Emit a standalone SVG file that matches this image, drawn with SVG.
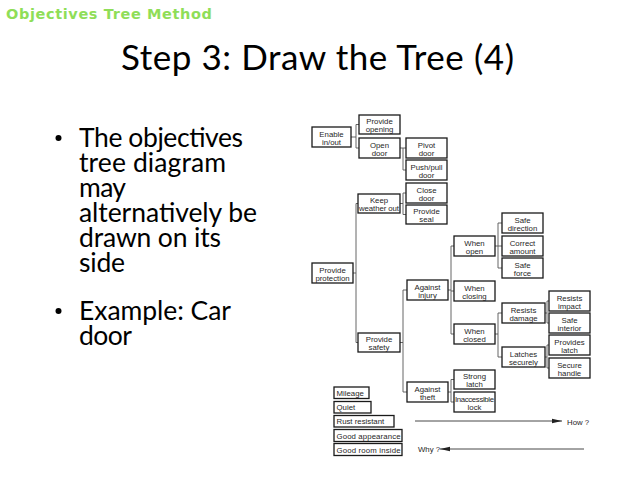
<svg xmlns="http://www.w3.org/2000/svg" width="638" height="479" viewBox="0 0 638 479">
<defs>
<style>
.bx{fill:#fff;stroke:#1a1a1a;stroke-width:1.3}
.bt{font-family:"Liberation Sans",Arial,sans-serif;font-size:7.8px;fill:#262626;text-anchor:middle}
.lt{font-family:"Liberation Sans",Arial,sans-serif;font-size:7.8px;fill:#262626}
.cn{fill:none;stroke:#555;stroke-width:0.9}
.body{font-family:Lato,"Liberation Sans",sans-serif;font-size:26.5px;fill:#000}
</style>
<marker id="ah" viewBox="0 0 10 6" refX="10" refY="3" markerWidth="10" markerHeight="6" markerUnits="userSpaceOnUse" orient="auto">
<path d="M0,0.8 L10,3 L0,5.2 Z" fill="#222"/>
</marker>
</defs>
<rect width="638" height="479" fill="#fff"/>
<text x="6" y="18.5" font-family="'DejaVu Sans','Liberation Sans',sans-serif" font-weight="bold" font-size="14.5" fill="#8fde58" textLength="206">Objectives Tree Method</text>
<text x="121" y="70" font-family="Lato,'Liberation Sans',sans-serif" font-size="35" fill="#000" textLength="393">Step 3: Draw the Tree (4)</text>
<g id="bullets">
<circle cx="58.5" cy="138" r="3" fill="#000"/>
<text class="body" x="79" y="147" textLength="164">The objectives</text>
<text class="body" x="79" y="172" textLength="147">tree diagram</text>
<text class="body" x="79" y="197" textLength="47">may</text>
<text class="body" x="79" y="222" textLength="178">alternatively be</text>
<text class="body" x="79" y="247" textLength="142">drawn on its</text>
<text class="body" x="79" y="272" textLength="46">side</text>
<circle cx="58.5" cy="311" r="3" fill="#000"/>
<text class="body" x="79" y="320" textLength="152">Example: Car</text>
<text class="body" x="79" y="345" textLength="53">door</text>
</g>
<g id="connectors">
<path class="cn" d="M351 137H356M356 124.5V148M356 124.5H359M356 148H359"/>
<path class="cn" d="M353 273H356M356 203.5V342.5M356 203.5H358M356 342.5H358"/>
<path class="cn" d="M400 148H403M403 148V170M403 148H406M403 170H406"/>
<path class="cn" d="M400 203.5H403M403 193V214.5M403 193H406M403 214.5H406"/>
<path class="cn" d="M400 342.5H403M403 290V392M403 290H407M403 392H407"/>
<path class="cn" d="M448 290H451M451 246V334M451 246H454M451 291H454M451 334H454"/>
<path class="cn" d="M448 392H451M451 379.5V402M451 379.5H454M451 402H454"/>
<path class="cn" d="M495 246H498M498 223V268M498 223H502M498 246H502M498 268H502"/>
<path class="cn" d="M495 334H498M498 313V357M498 313H502M498 357H502"/>
<path class="cn" d="M545 313H547M547 301V323M547 301H549M547 323H549"/>
<path class="cn" d="M545 357H547M547 345V368M547 345H549M547 368H549"/>
<path d="M415 421H562" stroke="#333" stroke-width="0.9" marker-end="url(#ah)"/>
<path d="M584 449H440" stroke="#333" stroke-width="0.9" marker-end="url(#ah)"/>
</g>
<text class="lt" x="567" y="424.5">How ?</text>
<text class="lt" x="418" y="452">Why ?</text>
<g id="enable-in-out"><rect class="bx" x="312" y="127" width="39" height="20"/><text class="bt" x="331.5" y="136.5">Enable</text><text class="bt" x="331.5" y="144.5">in/out</text></g>
<g id="provide-opening"><rect class="bx" x="359" y="115" width="41" height="19"/><text class="bt" x="379.5" y="124">Provide</text><text class="bt" x="379.5" y="132">opening</text></g>
<g id="open-door"><rect class="bx" x="359" y="138" width="41" height="20"/><text class="bt" x="379.5" y="147.5">Open</text><text class="bt" x="379.5" y="155.5">door</text></g>
<g id="pivot-door"><rect class="bx" x="406" y="138" width="41" height="20"/><text class="bt" x="426.5" y="147.5">Pivot</text><text class="bt" x="426.5" y="155.5">door</text></g>
<g id="push-pull-door"><rect class="bx" x="406" y="160" width="41" height="20"/><text class="bt" x="426.5" y="169.5">Push/pull</text><text class="bt" x="426.5" y="177.5">door</text></g>
<g id="close-door"><rect class="bx" x="406" y="183" width="41" height="20"/><text class="bt" x="426.5" y="192.5">Close</text><text class="bt" x="426.5" y="200.5">door</text></g>
<g id="provide-seal"><rect class="bx" x="406" y="205" width="41" height="19"/><text class="bt" x="426.5" y="214">Provide</text><text class="bt" x="426.5" y="222">seal</text></g>
<g id="keep-weather-out"><rect class="bx" x="358" y="194" width="42" height="19"/><text class="bt" x="379" y="203">Keep</text><text class="bt" x="379" y="211" textLength="40">weather out</text></g>
<g id="provide-protection"><rect class="bx" x="312" y="263" width="41" height="20"/><text class="bt" x="332.5" y="272.5">Provide</text><text class="bt" x="332.5" y="280.5">protection</text></g>
<g id="provide-safety"><rect class="bx" x="358" y="333" width="42" height="19"/><text class="bt" x="379" y="342">Provide</text><text class="bt" x="379" y="350">safety</text></g>
<g id="against-injury"><rect class="bx" x="407" y="280" width="41" height="20"/><text class="bt" x="427.5" y="289.5">Against</text><text class="bt" x="427.5" y="297.5">injury</text></g>
<g id="against-theft"><rect class="bx" x="407" y="382" width="41" height="20"/><text class="bt" x="427.5" y="391.5">Against</text><text class="bt" x="427.5" y="399.5">theft</text></g>
<g id="when-open"><rect class="bx" x="454" y="236" width="41" height="20"/><text class="bt" x="474.5" y="245.5">When</text><text class="bt" x="474.5" y="253.5">open</text></g>
<g id="when-closing"><rect class="bx" x="454" y="281" width="41" height="20"/><text class="bt" x="474.5" y="290.5">When</text><text class="bt" x="474.5" y="298.5">closing</text></g>
<g id="when-closed"><rect class="bx" x="454" y="324" width="41" height="20"/><text class="bt" x="474.5" y="333.5">When</text><text class="bt" x="474.5" y="341.5">closed</text></g>
<g id="safe-direction"><rect class="bx" x="502" y="213" width="41" height="20"/><text class="bt" x="522.5" y="222.5">Safe</text><text class="bt" x="522.5" y="230.5">direction</text></g>
<g id="correct-amount"><rect class="bx" x="502" y="236" width="41" height="20"/><text class="bt" x="522.5" y="245.5">Correct</text><text class="bt" x="522.5" y="253.5">amount</text></g>
<g id="safe-force"><rect class="bx" x="502" y="258" width="41" height="20"/><text class="bt" x="522.5" y="267.5">Safe</text><text class="bt" x="522.5" y="275.5">force</text></g>
<g id="resists-damage"><rect class="bx" x="502" y="303" width="43" height="20"/><text class="bt" x="523.5" y="312.5">Resists</text><text class="bt" x="523.5" y="320.5">damage</text></g>
<g id="latches-securely"><rect class="bx" x="502" y="347" width="43" height="20"/><text class="bt" x="523.5" y="356.5">Latches</text><text class="bt" x="523.5" y="364.5">securely</text></g>
<g id="resists-impact"><rect class="bx" x="549" y="291" width="41" height="20"/><text class="bt" x="569.5" y="300.5">Resists</text><text class="bt" x="569.5" y="308.5">impact</text></g>
<g id="safe-interior"><rect class="bx" x="549" y="313" width="41" height="20"/><text class="bt" x="569.5" y="322.5">Safe</text><text class="bt" x="569.5" y="330.5">interior</text></g>
<g id="provides-latch"><rect class="bx" x="549" y="335" width="41" height="20"/><text class="bt" x="569.5" y="344.5">Provides</text><text class="bt" x="569.5" y="352.5">latch</text></g>
<g id="secure-handle"><rect class="bx" x="549" y="358" width="41" height="20"/><text class="bt" x="569.5" y="367.5">Secure</text><text class="bt" x="569.5" y="375.5">handle</text></g>
<g id="strong-latch"><rect class="bx" x="454" y="370" width="41" height="19"/><text class="bt" x="474.5" y="379">Strong</text><text class="bt" x="474.5" y="387">latch</text></g>
<g id="inaccessible-lock"><rect class="bx" x="454" y="392" width="41" height="20"/><text class="bt" x="474.5" y="401.5" textLength="39">Inaccessible</text><text class="bt" x="474.5" y="409.5">lock</text></g>
<g id="mileage"><rect class="bx" x="334" y="387" width="35" height="11.5"/><text class="lt" x="336.5" y="395.5">Mileage</text></g>
<g id="quiet"><rect class="bx" x="334" y="401.5" width="37" height="11.5"/><text class="lt" x="336.5" y="410">Quiet</text></g>
<g id="rust-resistant"><rect class="bx" x="334" y="415.5" width="60" height="11.5"/><text class="lt" x="336.5" y="424">Rust resistant</text></g>
<g id="good-appearance"><rect class="bx" x="334" y="429.5" width="68" height="12"/><text class="lt" x="336.5" y="438.5" textLength="64">Good appearance</text></g>
<g id="good-room-inside"><rect class="bx" x="334" y="443.5" width="68" height="12"/><text class="lt" x="336.5" y="452.5" textLength="64">Good room inside</text></g>
</svg>
